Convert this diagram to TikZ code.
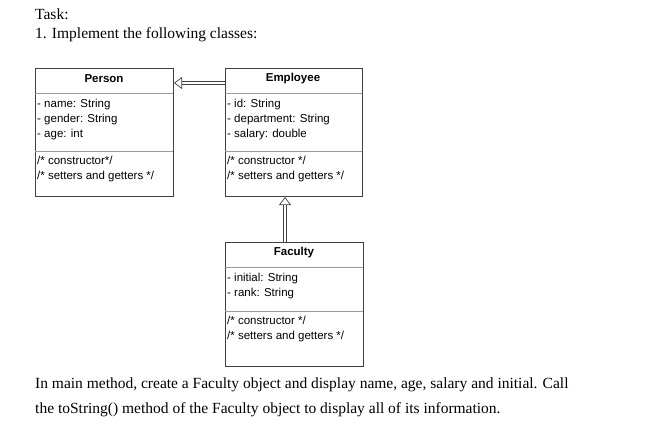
\documentclass[tikz,border=0pt]{standalone}
\usepackage{fontspec}
\setmainfont{Liberation Serif}
\newfontfamily\sansf{Liberation Sans}
\usetikzlibrary{arrows.meta}
\begin{document}
\begin{tikzpicture}[x=1pt,y=-1pt,
  box/.style={draw=black!75,line width=0.8pt},
  sep/.style={draw=black!40,line width=0.6pt},
  ttl/.style={font=\sansf\fontsize{11.5}{13}\selectfont\bfseries,anchor=center},
  mem/.style={font=\sansf\fontsize{11.5}{15}\selectfont,anchor=north west,align=left,inner sep=0pt},
  txt/.style={font=\fontsize{15.5}{17}\selectfont,anchor=west,inner sep=0pt},
  inh/.style={double=white,double distance=2pt,draw=black!75,line width=0.7pt,-{Triangle[open,length=8pt,width=12pt,line width=0.7pt]}}]
\useasboundingbox (0,0) rectangle (647,440);
\fill[white] (0,0) rectangle (647,440);
\node[txt] (t1) at (35,14) {Task:};
\node[txt] (t2) at (35,35) {1. Implement the following classes:};
% Person
\draw[box] (35,68) rectangle (173,196);
\draw[sep] (35,93) -- (173,93); \draw[sep] (35,151) -- (173,151);
\node[ttl] (person) at (104,79) {Person};
\node[mem] (pa) at (37,99) {- name: String\\- gender: String\\- age: int};
\node[mem] (pm) at (37,156) {/* constructor*/\\/* setters and getters */};
% Employee
\draw[box] (225,68) rectangle (362,196);
\draw[sep] (225,93) -- (362,93); \draw[sep] (225,151) -- (362,151);
\node[ttl] (emp) at (293,79) {Employee};
\node[mem] (ea) at (227,99) {- id: String\\- department: String\\- salary: double};
\node[mem] (em) at (227,156) {/* constructor */\\/* setters and getters */};
% Faculty
\draw[box] (225,242) rectangle (363,366);
\draw[sep] (225,267) -- (363,267); \draw[sep] (225,311) -- (363,311);
\node[ttl] (fac) at (294,253) {Faculty};
\node[mem] (fa) at (227,273) {- initial: String\\- rank: String};
\node[mem] (fm) at (227,316) {/* constructor */\\/* setters and getters */};
\coordinate (eL) at (225,83); \coordinate (pR) at (174,83);
\coordinate (fT) at (285,242); \coordinate (eB) at (285,197);
\draw[inh] (eL) -- (pR);
\draw[inh] (fT) -- (eB);
\node[txt] (b1) at (35,385) {In main method, create a Faculty object and display name, age, salary and initial. Call};
\node[txt] (b2) at (35,410) {the toString() method of the Faculty object to display all of its information.};
\end{tikzpicture}
\end{document}
